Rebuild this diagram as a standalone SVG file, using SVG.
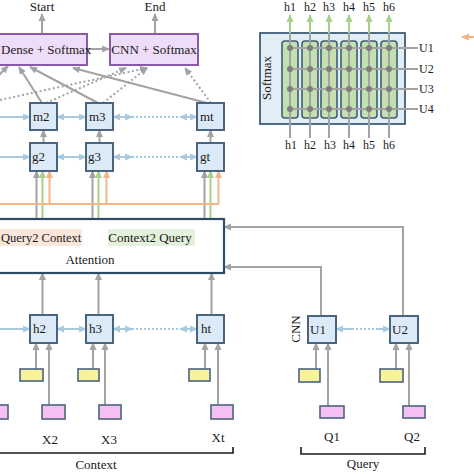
<svg xmlns="http://www.w3.org/2000/svg" width="474" height="474" viewBox="0 0 474 474">
<defs>
<style>
text{font-family:"Liberation Serif","Times New Roman",serif;fill:#1a1a1a}
.t13{font-size:13px}
.t12{font-size:12px}
.node{fill:#dce9f6;stroke:#48647f;stroke-width:2}
.yel{fill:#f8f39a;stroke:#48647f;stroke-width:1.6}
.pink{fill:#f5c0f1;stroke:#48647f;stroke-width:1.6}
.sm{fill:#eedcf8;stroke:#8a5aa6;stroke-width:2}
.g{stroke:#a3a3a3;stroke-width:2;fill:none}
.gd{stroke:#a3a3a3;stroke-width:2;fill:none;stroke-dasharray:2 2.5}
.gr{stroke:#a8cf8e;stroke-width:2;fill:none}
.or{stroke:#f2b587;stroke-width:2;fill:none}
.bl{stroke:#a9c9df;stroke-width:2;fill:none}
.bld{stroke:#a9c9df;stroke-width:2;fill:none;stroke-dasharray:2 2}
.col{fill:#c4dfb0;stroke:#3f5d78;stroke-width:1.6}
.dot{fill:#7e7e7e}
</style>
<marker id="ag" viewBox="0 0 8 8" refX="7" refY="4" markerWidth="8" markerHeight="8" markerUnits="userSpaceOnUse" orient="auto-start-reverse"><path d="M0,0.5 L8,4 L0,7.5 z" fill="#a3a3a3"/></marker>
<marker id="agr" viewBox="0 0 8 8" refX="7" refY="4" markerWidth="8" markerHeight="8" markerUnits="userSpaceOnUse" orient="auto-start-reverse"><path d="M0,0.5 L8,4 L0,7.5 z" fill="#a8cf8e"/></marker>
<marker id="aor" viewBox="0 0 8 8" refX="7" refY="4" markerWidth="8" markerHeight="8" markerUnits="userSpaceOnUse" orient="auto-start-reverse"><path d="M0,0.5 L8,4 L0,7.5 z" fill="#f2b587"/></marker>
<marker id="abl" viewBox="0 0 8 8" refX="7" refY="4" markerWidth="8" markerHeight="8" markerUnits="userSpaceOnUse" orient="auto-start-reverse"><path d="M0,0.5 L8,4 L0,7.5 z" fill="#a9c9df"/></marker>
</defs>
<rect width="474" height="474" fill="#ffffff"/>

<g id="connectors">
  <line class="g" x1="42" y1="34" x2="42" y2="14" marker-end="url(#ag)"/>
  <line class="g" x1="155" y1="34" x2="155" y2="14" marker-end="url(#ag)"/>
  <line class="g" x1="87" y1="49" x2="109" y2="49" marker-end="url(#ag)"/>
  <line class="g" x1="-6" y1="80" x2="8" y2="66" marker-end="url(#ag)"/>
  <line class="g" x1="42" y1="103" x2="19" y2="67" marker-end="url(#ag)"/>
  <line class="g" x1="98" y1="103" x2="30" y2="67" marker-end="url(#ag)"/>
  <line class="g" x1="207" y1="103" x2="73" y2="68" marker-end="url(#ag)"/>
  <line class="gd" x1="0" y1="100" x2="147" y2="68" marker-end="url(#ag)"/>
  <line class="gd" x1="46" y1="103" x2="126" y2="68" marker-end="url(#ag)"/>
  <line class="gd" x1="103" y1="103" x2="147" y2="68" marker-end="url(#ag)"/>
  <line class="gd" x1="211" y1="103" x2="185" y2="68" marker-end="url(#ag)"/>
  <line class="bl" x1="-10" y1="117" x2="30" y2="117" marker-start="url(#abl)" marker-end="url(#abl)"/>
  <line class="bl" x1="57" y1="117" x2="86" y2="117" marker-start="url(#abl)" marker-end="url(#abl)"/>
  <line class="bl" x1="113" y1="117" x2="132" y2="117" marker-start="url(#abl)" marker-end="url(#abl)"/>
  <line class="bld" x1="132" y1="117" x2="180" y2="117"/>
  <line class="bl" x1="180" y1="117" x2="197" y2="117" marker-start="url(#abl)" marker-end="url(#abl)"/>
  <line class="bl" x1="-10" y1="157" x2="30" y2="157" marker-start="url(#abl)" marker-end="url(#abl)"/>
  <line class="bl" x1="57" y1="157" x2="86" y2="157" marker-start="url(#abl)" marker-end="url(#abl)"/>
  <line class="bl" x1="113" y1="157" x2="132" y2="157" marker-start="url(#abl)" marker-end="url(#abl)"/>
  <line class="bld" x1="132" y1="157" x2="180" y2="157"/>
  <line class="bl" x1="180" y1="157" x2="197" y2="157" marker-start="url(#abl)" marker-end="url(#abl)"/>
  <line class="bl" x1="-10" y1="329" x2="30" y2="329" marker-start="url(#abl)" marker-end="url(#abl)"/>
  <line class="bl" x1="57" y1="329" x2="86" y2="329" marker-start="url(#abl)" marker-end="url(#abl)"/>
  <line class="bl" x1="113" y1="329" x2="132" y2="329" marker-start="url(#abl)" marker-end="url(#abl)"/>
  <line class="bld" x1="132" y1="329" x2="180" y2="329"/>
  <line class="bl" x1="180" y1="329" x2="197" y2="329" marker-start="url(#abl)" marker-end="url(#abl)"/>
  <line class="bl" x1="336" y1="329" x2="352" y2="329" marker-start="url(#abl)"/>
  <line class="bld" x1="352" y1="329" x2="376" y2="329"/>
  <line class="bl" x1="376" y1="329" x2="390" y2="329" marker-end="url(#abl)"/>
  <line class="g" x1="43.5" y1="143" x2="43.5" y2="130" marker-end="url(#ag)"/>
  <line class="g" x1="99.5" y1="143" x2="99.5" y2="130" marker-end="url(#ag)"/>
  <line class="g" x1="210.5" y1="143" x2="210.5" y2="130" marker-end="url(#ag)"/>
  <line class="g" x1="36.5" y1="219" x2="36.5" y2="171" marker-end="url(#ag)"/>
  <line class="gr" x1="42.5" y1="219" x2="42.5" y2="171" marker-end="url(#agr)"/>
  <line class="g" x1="92.5" y1="219" x2="92.5" y2="171" marker-end="url(#ag)"/>
  <line class="gr" x1="98.5" y1="219" x2="98.5" y2="171" marker-end="url(#agr)"/>
  <line class="g" x1="204.5" y1="219" x2="204.5" y2="171" marker-end="url(#ag)"/>
  <line class="gr" x1="210.5" y1="219" x2="210.5" y2="171" marker-end="url(#agr)"/>
  <polyline class="or" points="-5,204 219,204"/>
  <line class="or" x1="49.5" y1="204" x2="49.5" y2="171" marker-end="url(#aor)"/>
  <line class="or" x1="106.5" y1="204" x2="106.5" y2="171" marker-end="url(#aor)"/>
  <line class="or" x1="218.5" y1="204" x2="218.5" y2="171" marker-end="url(#aor)"/>
  <line class="g" x1="42.5" y1="315" x2="42.5" y2="273" marker-end="url(#ag)"/>
  <line class="g" x1="98.5" y1="315" x2="98.5" y2="273" marker-end="url(#ag)"/>
  <line class="g" x1="211.5" y1="315" x2="211.5" y2="273" marker-end="url(#ag)"/>
  <polyline class="g" points="403,316 403,227 224,227" marker-end="url(#ag)"/>
  <polyline class="g" points="321,316 321,267 224,267" marker-end="url(#ag)"/>
  <line class="g" x1="36" y1="369" x2="36" y2="343" marker-end="url(#ag)"/>
  <line class="g" x1="49" y1="405" x2="49" y2="343" marker-end="url(#ag)"/>
  <line class="g" x1="93" y1="369" x2="93" y2="343" marker-end="url(#ag)"/>
  <line class="g" x1="105" y1="405" x2="105" y2="343" marker-end="url(#ag)"/>
  <line class="g" x1="205" y1="369" x2="205" y2="343" marker-end="url(#ag)"/>
  <line class="g" x1="218" y1="405" x2="218" y2="343" marker-end="url(#ag)"/>
  <line class="g" x1="316" y1="369" x2="316" y2="343" marker-end="url(#ag)"/>
  <line class="g" x1="328" y1="406" x2="328" y2="343" marker-end="url(#ag)"/>
  <line class="g" x1="396" y1="369" x2="396" y2="343" marker-end="url(#ag)"/>
  <line class="g" x1="409" y1="406" x2="409" y2="343" marker-end="url(#ag)"/>
  <line class="or" x1="480" y1="37" x2="462" y2="37" marker-end="url(#aor)"/>
</g>

<g id="labels-top">
  <text class="t13" x="42" y="11" text-anchor="middle">Start</text>
  <text class="t13" x="155" y="11" text-anchor="middle">End</text>
</g>

<g id="dense-softmax">
  <rect class="sm" x="-10" y="34" width="97" height="31"/>
  <text class="t13" x="1" y="54">Dense + Softmax</text>
</g>
<g id="cnn-softmax">
  <rect class="sm" x="110" y="34" width="88" height="31"/>
  <text class="t13" x="154" y="54" text-anchor="middle">CNN + Softmax</text>
</g>

<g id="m2"><rect class="node" x="30" y="103" width="27" height="27"/><text class="t13" x="33" y="121">m2</text></g>
<g id="m3"><rect class="node" x="86" y="103" width="27" height="27"/><text class="t13" x="89" y="121">m3</text></g>
<g id="mt"><rect class="node" x="197" y="103" width="27" height="27"/><text class="t13" x="200" y="121">mt</text></g>

<g id="g2"><rect class="node" x="30" y="143" width="27" height="28"/><text class="t13" x="32" y="161">g2</text></g>
<g id="g3"><rect class="node" x="86" y="143" width="27" height="28"/><text class="t13" x="88" y="161">g3</text></g>
<g id="gt"><rect class="node" x="197" y="143" width="27" height="28"/><text class="t13" x="200" y="161">gt</text></g>

<g id="attention">
  <rect x="-10" y="219" width="234" height="54" fill="#ffffff" stroke="#2f4c66" stroke-width="2.2"/>
  <rect x="-10" y="229" width="92" height="17" fill="#fbe6dc"/>
  <text x="1" y="242" font-size="12.5">Query2 Context</text>
  <rect x="108" y="229" width="87" height="17" fill="#e4f1dc"/>
  <text class="t13" x="150" y="242" text-anchor="middle">Context2 Query</text>
  <text class="t13" x="90" y="264" text-anchor="middle">Attention</text>
</g>

<g id="h2"><rect class="node" x="30" y="315" width="27" height="28"/><text class="t13" x="33" y="333">h2</text></g>
<g id="h3"><rect class="node" x="86" y="315" width="27" height="28"/><text class="t13" x="89" y="333">h3</text></g>
<g id="ht"><rect class="node" x="197" y="315" width="27" height="28"/><text class="t13" x="201" y="333">ht</text></g>

<g id="emb-context">
  <rect class="yel" x="20" y="369" width="23" height="12"/>
  <rect class="yel" x="78" y="369" width="21" height="12"/>
  <rect class="yel" x="189" y="369" width="21" height="12"/>
  <rect class="pink" x="-12" y="405" width="20" height="14"/>
  <rect class="pink" x="42" y="405" width="23" height="14"/>
  <rect class="pink" x="99" y="405" width="22" height="14"/>
  <rect class="pink" x="211" y="405" width="22" height="14"/>
  <text class="t13" x="50" y="444" text-anchor="middle">X2</text>
  <text class="t13" x="109" y="444" text-anchor="middle">X3</text>
  <text class="t13" x="218" y="442" text-anchor="middle">Xt</text>
  <path d="M-5,453 L233,453 L233,447" fill="none" stroke="#1a1a1a" stroke-width="1.6"/>
  <text class="t13" x="96" y="469" text-anchor="middle">Context</text>
</g>

<g id="U1"><rect class="node" x="308" y="316" width="28" height="27"/><text class="t13" x="310" y="334">U1</text></g>
<g id="U2"><rect class="node" x="390" y="316" width="28" height="27"/><text class="t13" x="392" y="334">U2</text></g>
<g id="cnn-label"><text class="t13" transform="translate(300,329) rotate(-90)" text-anchor="middle">CNN</text></g>

<g id="emb-query">
  <rect class="yel" x="299" y="369" width="21" height="13"/>
  <rect class="yel" x="380" y="369" width="23" height="13"/>
  <rect class="pink" x="320" y="406" width="24" height="12"/>
  <rect class="pink" x="403" y="406" width="22" height="12"/>
  <text class="t13" x="332" y="441" text-anchor="middle">Q1</text>
  <text class="t13" x="412" y="441" text-anchor="middle">Q2</text>
  <path d="M301,447 L301,454 L425,454 L425,447" fill="none" stroke="#1a1a1a" stroke-width="1.6"/>
  <text class="t13" x="363" y="468" text-anchor="middle">Query</text>
</g>

<g id="softmax-panel">
  <rect x="260" y="33" width="145" height="91" fill="#e3edf6" stroke="#3f5d78" stroke-width="1.8"/>
  <text class="t13" transform="translate(271,78) rotate(-90)" text-anchor="middle">Softmax</text>
  <rect class="col" x="282" y="41" width="16" height="77" rx="3"/>
  <rect class="col" x="302" y="41" width="16" height="77" rx="3"/>
  <rect class="col" x="321" y="41" width="16" height="77" rx="3"/>
  <rect class="col" x="341" y="41" width="16" height="77" rx="3"/>
  <rect class="col" x="361" y="41" width="16" height="77" rx="3"/>
  <rect class="col" x="381" y="41" width="16" height="77" rx="3"/>
  <g class="g">
    <line x1="290" y1="138" x2="290" y2="33"/>
    <line x1="310" y1="138" x2="310" y2="33"/>
    <line x1="329" y1="138" x2="329" y2="33"/>
    <line x1="349" y1="138" x2="349" y2="33"/>
    <line x1="369" y1="138" x2="369" y2="33"/>
    <line x1="389" y1="138" x2="389" y2="33"/>
    <line x1="290" y1="48" x2="418" y2="48"/>
    <line x1="290" y1="69" x2="418" y2="69"/>
    <line x1="290" y1="89" x2="418" y2="89"/>
    <line x1="290" y1="109" x2="418" y2="109"/>
  </g>
  <line class="gr" x1="290" y1="33" x2="290" y2="15" marker-end="url(#agr)"/>
  <line class="gr" x1="310" y1="33" x2="310" y2="15" marker-end="url(#agr)"/>
  <line class="gr" x1="329" y1="33" x2="329" y2="15" marker-end="url(#agr)"/>
  <line class="gr" x1="349" y1="33" x2="349" y2="15" marker-end="url(#agr)"/>
  <line class="gr" x1="369" y1="33" x2="369" y2="15" marker-end="url(#agr)"/>
  <line class="gr" x1="389" y1="33" x2="389" y2="15" marker-end="url(#agr)"/>
  <g class="dot">
    <circle cx="290" cy="48" r="3"/><circle cx="310" cy="48" r="3"/><circle cx="329" cy="48" r="3"/><circle cx="349" cy="48" r="3"/><circle cx="369" cy="48" r="3"/><circle cx="389" cy="48" r="3"/>
    <circle cx="290" cy="69" r="3"/><circle cx="310" cy="69" r="3"/><circle cx="329" cy="69" r="3"/><circle cx="349" cy="69" r="3"/><circle cx="369" cy="69" r="3"/><circle cx="389" cy="69" r="3"/>
    <circle cx="290" cy="89" r="3"/><circle cx="310" cy="89" r="3"/><circle cx="329" cy="89" r="3"/><circle cx="349" cy="89" r="3"/><circle cx="369" cy="89" r="3"/><circle cx="389" cy="89" r="3"/>
    <circle cx="290" cy="109" r="3"/><circle cx="310" cy="109" r="3"/><circle cx="329" cy="109" r="3"/><circle cx="349" cy="109" r="3"/><circle cx="369" cy="109" r="3"/><circle cx="389" cy="109" r="3"/>
  </g>
  <g class="t12">
    <text x="290" y="11" text-anchor="middle">h1</text>
    <text x="310" y="11" text-anchor="middle">h2</text>
    <text x="329" y="11" text-anchor="middle">h3</text>
    <text x="349" y="11" text-anchor="middle">h4</text>
    <text x="369" y="11" text-anchor="middle">h5</text>
    <text x="389" y="11" text-anchor="middle">h6</text>
    <text x="291" y="149" text-anchor="middle">h1</text>
    <text x="310" y="149" text-anchor="middle">h2</text>
    <text x="330" y="149" text-anchor="middle">h3</text>
    <text x="349" y="149" text-anchor="middle">h4</text>
    <text x="369" y="149" text-anchor="middle">h5</text>
    <text x="389" y="149" text-anchor="middle">h6</text>
    <text x="419" y="52">U1</text>
    <text x="419" y="73">U2</text>
    <text x="419" y="93">U3</text>
    <text x="419" y="113">U4</text>
  </g>
</g>
</svg>
